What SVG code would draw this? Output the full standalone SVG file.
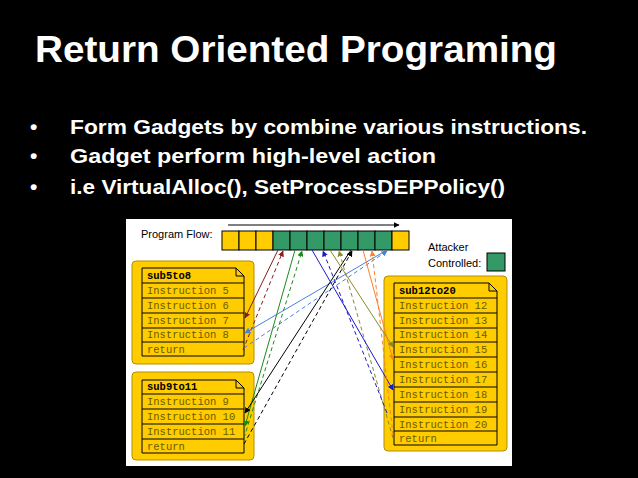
<svg xmlns="http://www.w3.org/2000/svg" width="638" height="478" viewBox="0 0 638 478">
<style>
.h{font-family:"Liberation Sans",Arial,sans-serif;font-weight:bold;fill:#fff}
.sub{fill:#ffcc00;stroke:#b38f00;stroke-width:1}
.doc{fill:#ffcc00;stroke:#000;stroke-width:1}
.m{font-family:"Liberation Mono","DejaVu Sans Mono",monospace;font-size:10.5px;fill:#6b5a00}
.mt{font-family:"Liberation Mono","DejaVu Sans Mono",monospace;font-size:10.5px;font-weight:bold;fill:#000}
.s{font-family:"Liberation Sans",Arial,sans-serif;font-size:11px;fill:#000}
.c line{stroke-width:1}
</style>
<defs>
<marker id="a" viewBox="0 0 10 10" refX="9" refY="5" markerWidth="6" markerHeight="6" orient="auto"><path d="M0,0L10,5L0,10z" fill="context-stroke"/></marker>
</defs>
<rect width="638" height="478" fill="#000"/>
<text class="h" x="35" y="62" font-size="36" textLength="522" lengthAdjust="spacingAndGlyphs">Return Oriented Programing</text>
<g class="h" font-size="21">
<text x="30" y="134">•</text><text x="70" y="134" textLength="517" lengthAdjust="spacingAndGlyphs">Form Gadgets by combine various instructions.</text>
<text x="30" y="163">•</text><text x="70" y="163" textLength="366" lengthAdjust="spacingAndGlyphs">Gadget perform high-level action</text>
<text x="30" y="194">•</text><text x="70" y="194" textLength="435" lengthAdjust="spacingAndGlyphs">i.e VirtualAlloc(), SetProcessDEPPolicy()</text>
</g>
<rect x="126" y="219" width="386" height="247" fill="#fff"/>
<g id="flow">
<text class="s" x="141" y="238">Program Flow:</text>
<line x1="228" y1="225" x2="399" y2="225" stroke="#000" marker-end="url(#a)"/>
<g stroke="#000" stroke-width="1">
<rect x="222" y="231" width="17" height="19" fill="#ffcc00"/><rect x="239" y="231" width="17" height="19" fill="#ffcc00"/><rect x="256" y="231" width="17" height="19" fill="#ffcc00"/>
<rect x="273" y="231" width="17" height="19" fill="#339966"/><rect x="290" y="231" width="17" height="19" fill="#339966"/><rect x="307" y="231" width="17" height="19" fill="#339966"/><rect x="324" y="231" width="17" height="19" fill="#339966"/><rect x="341" y="231" width="17" height="19" fill="#339966"/><rect x="358" y="231" width="17" height="19" fill="#339966"/><rect x="375" y="231" width="17" height="19" fill="#339966"/>
<rect x="392" y="231" width="17" height="19" fill="#ffcc00"/>
</g>
</g>
<g id="legend">
<text class="s" x="428" y="251">Attacker</text>
<text class="s" x="428" y="267">Controlled:</text>
<rect x="487" y="253" width="18" height="18" fill="#339966" stroke="#000"/>
</g>
<g id="sub5to8">
<rect class="sub" x="132" y="261" width="122" height="103" rx="4"/>
<path class="doc" d="M142,268H236L244,276V356H142Z"/>
<path d="M236,268V276H244" fill="none" stroke="#000"/>
<g stroke="#000"><line x1="142" y1="283" x2="244" y2="283"/><line x1="142" y1="298" x2="244" y2="298"/><line x1="142" y1="313" x2="244" y2="313"/><line x1="142" y1="328" x2="244" y2="328"/><line x1="142" y1="342" x2="244" y2="342"/></g>
<text class="mt" x="147" y="279">sub5to8</text>
<text class="m" x="147" y="294">Instruction 5</text><text class="m" x="147" y="309">Instruction 6</text><text class="m" x="147" y="324">Instruction 7</text><text class="m" x="147" y="338">Instruction 8</text><text class="m" x="147" y="353">return</text>
</g>
<g id="sub9to11">
<rect class="sub" x="132" y="372" width="122" height="88" rx="4"/>
<path class="doc" d="M142,380H236L244,388V453H142Z"/>
<path d="M236,380V388H244" fill="none" stroke="#000"/>
<g stroke="#000"><line x1="142" y1="394" x2="244" y2="394"/><line x1="142" y1="409" x2="244" y2="409"/><line x1="142" y1="424" x2="244" y2="424"/><line x1="142" y1="439" x2="244" y2="439"/></g>
<text class="mt" x="147" y="390">sub9to11</text>
<text class="m" x="147" y="405">Instruction 9</text><text class="m" x="147" y="420">Instruction 10</text><text class="m" x="147" y="435">Instruction 11</text><text class="m" x="147" y="450">return</text>
</g>
<g id="sub12to20">
<rect class="sub" x="384" y="276" width="123" height="175" rx="4"/>
<path class="doc" d="M394,283H489L497,291V445H394Z"/>
<path d="M489,283V291H497" fill="none" stroke="#000"/>
<g stroke="#000"><line x1="394" y1="298" x2="497" y2="298"/><line x1="394" y1="313" x2="497" y2="313"/><line x1="394" y1="328" x2="497" y2="328"/><line x1="394" y1="342" x2="497" y2="342"/><line x1="394" y1="357" x2="497" y2="357"/><line x1="394" y1="372" x2="497" y2="372"/><line x1="394" y1="387" x2="497" y2="387"/><line x1="394" y1="402" x2="497" y2="402"/><line x1="394" y1="417" x2="497" y2="417"/><line x1="394" y1="431" x2="497" y2="431"/></g>
<text class="mt" x="399" y="294">sub12to20</text>
<text class="m" x="399" y="309">Instruction 12</text><text class="m" x="399" y="324">Instruction 13</text><text class="m" x="399" y="338">Instruction 14</text><text class="m" x="399" y="353">Instruction 15</text><text class="m" x="399" y="368">Instruction 16</text><text class="m" x="399" y="383">Instruction 17</text><text class="m" x="399" y="398">Instruction 18</text><text class="m" x="399" y="413">Instruction 19</text><text class="m" x="399" y="428">Instruction 20</text><text class="m" x="399" y="442">return</text>
</g>
<g id="connectors" class="c" fill="none" marker-end="url(#a)">
<line x1="278" y1="250" x2="245" y2="318" stroke="#8b1a1a"/>
<line x1="243" y1="350" x2="283" y2="251" stroke="#8b1a1a" stroke-dasharray="4,3"/>
<line x1="387" y1="250" x2="245" y2="333" stroke="#4a7fe0"/>
<line x1="244" y1="348" x2="387" y2="251" stroke="#4a7fe0" stroke-dasharray="4,3"/>
<line x1="295" y1="250" x2="245" y2="426" stroke="#1a8a1a"/>
<line x1="244" y1="438" x2="302" y2="251" stroke="#1a8a1a" stroke-dasharray="4,3"/>
<line x1="351" y1="250" x2="245" y2="413" stroke="#000"/>
<line x1="244" y1="444" x2="352" y2="251" stroke="#000" stroke-dasharray="4,3"/>
<line x1="330" y1="250" x2="393" y2="347" stroke="#8a8a2a"/>
<line x1="393" y1="438" x2="339" y2="251" stroke="#8a8a2a" stroke-dasharray="4,3"/>
<line x1="312" y1="250" x2="393" y2="390" stroke="#1a1acc"/>
<line x1="387" y1="413" x2="323" y2="251" stroke="#1a1acc" stroke-dasharray="4,3"/>
<line x1="363" y1="250" x2="393" y2="360" stroke="#ff7f2a"/>
<line x1="393" y1="435" x2="372" y2="251" stroke="#ff7f2a" stroke-dasharray="4,3"/>
</g>
</svg>
